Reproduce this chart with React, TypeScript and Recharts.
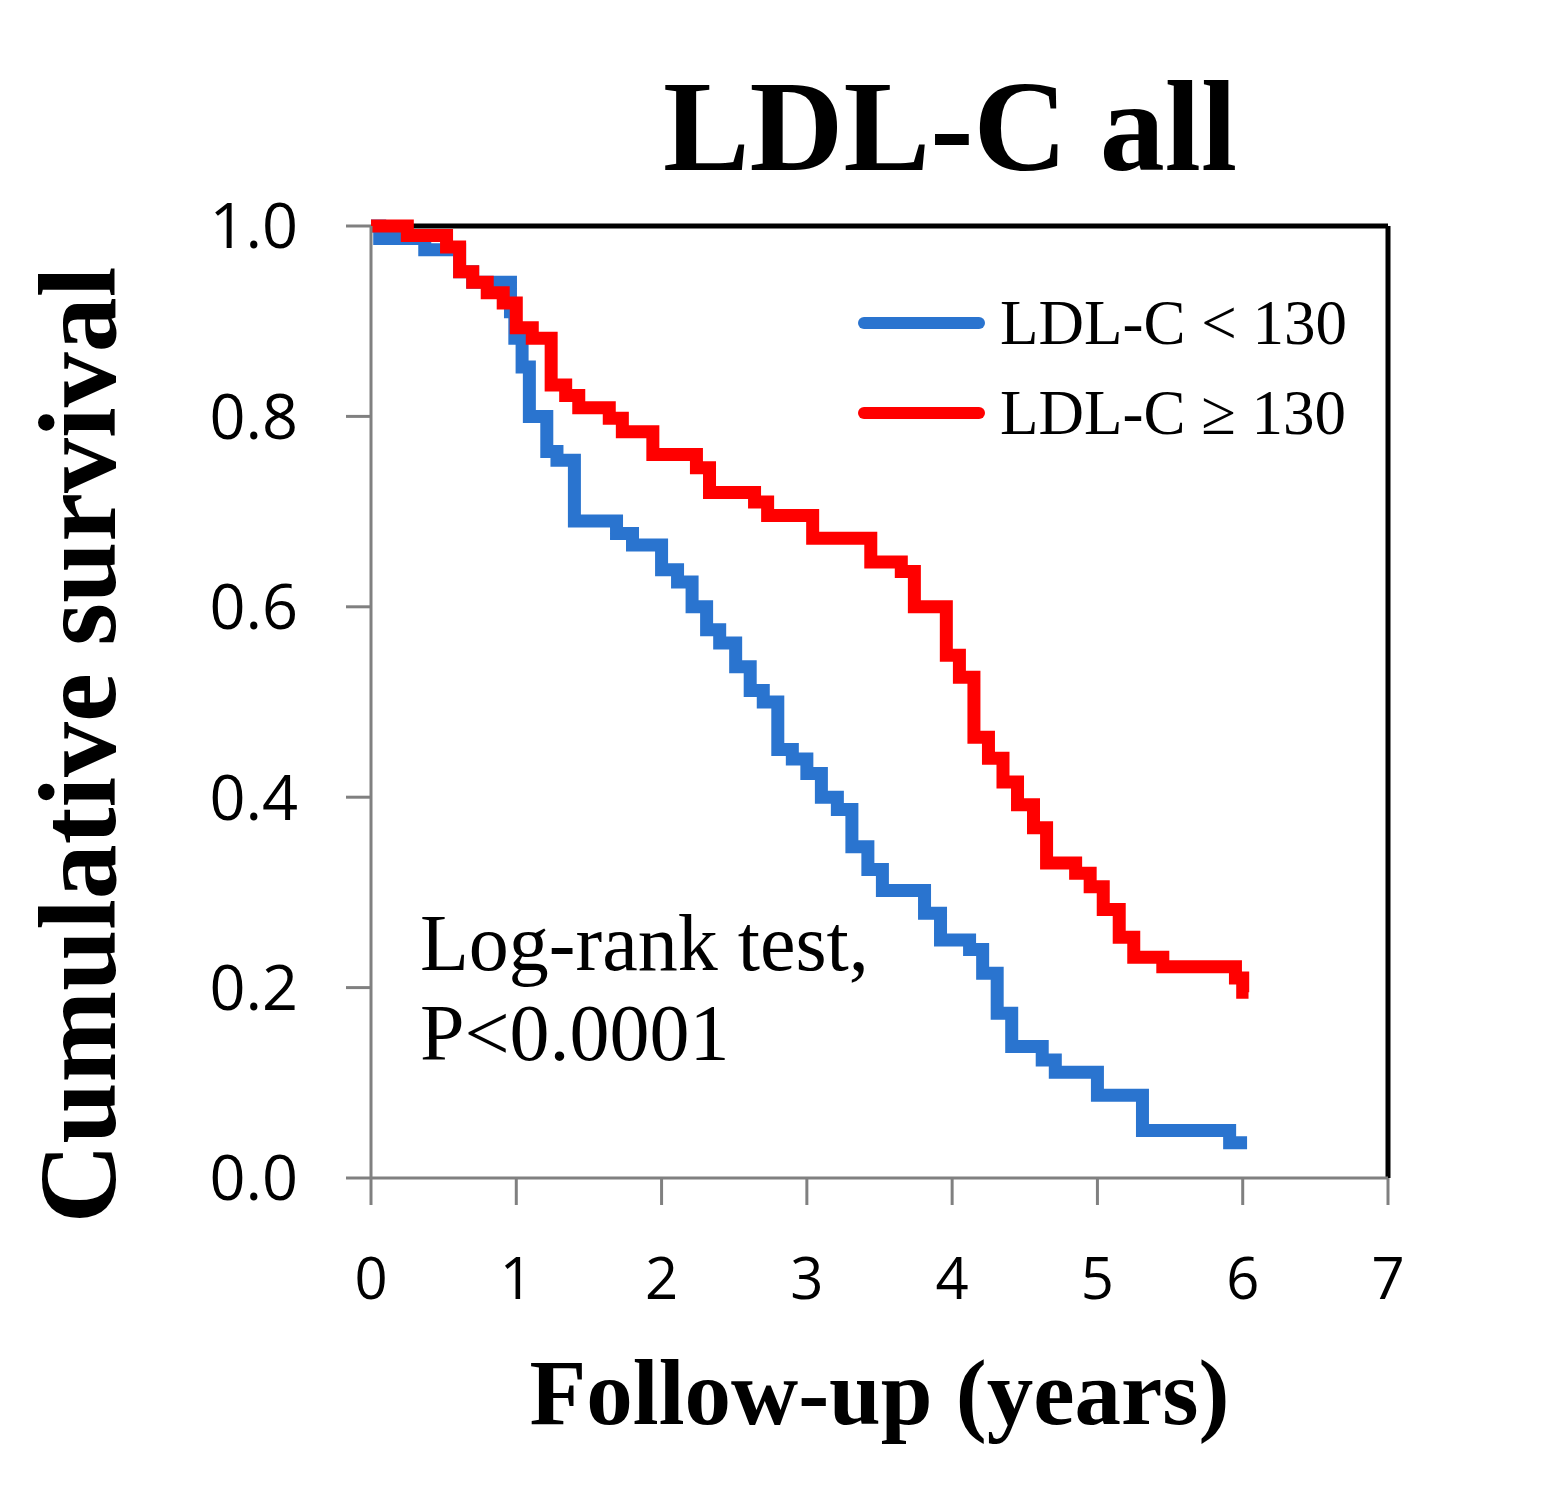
import { LineChart, Line, XAxis, YAxis, ReferenceLine, Legend } from "recharts";

// Kaplan-Meier steps (years, cumulative survival)
const lowYears = [
  0, 0.06, 0.37, 0.61, 0.7, 0.96, 0.99, 1.04, 1.09, 1.21, 1.28, 1.4, 1.69, 1.8,
  2.0, 2.11, 2.21, 2.31, 2.4, 2.51, 2.61, 2.7, 2.8, 2.9, 3.0, 3.1, 3.21, 3.31,
  3.42, 3.52, 3.81, 3.92, 4.12, 4.21, 4.31, 4.41, 4.62, 4.71, 5.0, 5.31, 5.91,
  6.03,
];
const lowSurv = [
  1.0, 0.987, 0.975, 0.952, 0.941, 0.91, 0.882, 0.852, 0.8, 0.763, 0.754, 0.69,
  0.677, 0.665, 0.639, 0.626, 0.6, 0.576, 0.562, 0.537, 0.512, 0.5, 0.45, 0.44,
  0.425, 0.4, 0.387, 0.348, 0.324, 0.302, 0.278, 0.25, 0.24, 0.215, 0.173,
  0.138, 0.124, 0.111, 0.087, 0.05, 0.037, 0.037,
];

const highYears = [
  0, 0.25, 0.52, 0.61, 0.7, 0.8, 0.91, 1.0, 1.11, 1.24, 1.34, 1.43, 1.64, 1.73,
  1.94, 2.24, 2.33, 2.64, 2.73, 3.04, 3.44, 3.65, 3.74, 3.96, 4.05, 4.15, 4.25,
  4.35, 4.45, 4.56, 4.65, 4.85, 4.95, 5.04, 5.15, 5.25, 5.45, 5.95, 6.0, 6.04,
];
const highSurv = [
  1.0, 0.99, 0.978, 0.952, 0.941, 0.93, 0.919, 0.893, 0.882, 0.833, 0.822,
  0.809, 0.798, 0.784, 0.76, 0.746, 0.72, 0.71, 0.696, 0.672, 0.647, 0.637, 0.6,
  0.549, 0.526, 0.463, 0.441, 0.416, 0.392, 0.368, 0.331, 0.32, 0.306, 0.282,
  0.253, 0.232, 0.222, 0.21, 0.195, 0.195,
];

const xTicks = [0, 1, 2, 3, 4, 5, 6, 7];
const yTicks = [0, 0.2, 0.4, 0.6, 0.8, 1.0];

const lowData = lowYears.map((t, i) => ({ t, s: lowSurv[i] }));
const highData = highYears.map((t, i) => ({ t, s: highSurv[i] }));

const BLUE = "#2a74cf";
const RED = "#ff0000";
const AXIS = "#808080";
const SERIF = "'Liberation Serif', 'Times New Roman', serif";

const series = [
  { name: "LDL-C < 130", color: BLUE },
  { name: "LDL-C \u2265 130", color: RED },
];

function KMLegend() {
  return (
    <div>
      {series.map((s) => (
        <div
          key={s.name}
          style={{ display: "flex", alignItems: "center", height: 90 }}
        >
          <div
            style={{
              width: 127,
              height: 12,
              borderRadius: 6,
              background: s.color,
              marginRight: 15,
            }}
          />
          <span
            style={{
              fontFamily: SERIF,
              fontSize: 63,
              lineHeight: "90px",
              color: "#000",
              whiteSpace: "nowrap",
            }}
          >
            {s.name}
          </span>
        </div>
      ))}
    </div>
  );
}

export default function App() {
  return (
    <div
      style={{
        position: "absolute",
        left: 0,
        top: 0,
        width: 1568,
        height: 1506,
        background: "#fff",
      }}
    >
      <LineChart
        width={1568}
        height={1506}
        margin={{ top: 226, right: 180, bottom: 148, left: 0 }}
      >
        <XAxis
          type="number"
          dataKey="t"
          domain={[0, 7]}
          ticks={xTicks}
          allowDataOverflow
          height={180}
          stroke={AXIS}
          strokeWidth={3}
          tickSize={27}
          tickMargin={53}
          tick={{ fill: "#000", fontSize: 58, fontFamily: "'Open Sans', sans-serif" }}
          label={{
            value: "Follow-up (years)",
            position: "bottom",
            offset: 0,
            fill: "#000",
            fontSize: 93,
            fontWeight: "bold",
            fontFamily: SERIF,
          }}
        />
        <YAxis
          type="number"
          dataKey="s"
          domain={[0, 1]}
          ticks={yTicks}
          width={371}
          stroke={AXIS}
          strokeWidth={3}
          tickSize={25}
          tickMargin={48}
          tickFormatter={(v: number) => v.toFixed(1)}
          tick={{ fill: "#000", fontSize: 63, fontFamily: "'Open Sans', sans-serif" }}
        />
        <ReferenceLine y={1} stroke="#000" strokeWidth={5} />
        <ReferenceLine x={7} stroke="#000" strokeWidth={5} />
        <Legend
          layout="vertical"
          align="center"
          verticalAlign="middle"
          wrapperStyle={{ top: 278, left: 858, width: "auto" }}
          content={() => <KMLegend />}
        />
        <Line
          data={lowData}
          dataKey="s"
          type="stepAfter"
          stroke={BLUE}
          strokeWidth={13}
          dot={false}
          activeDot={false}
          isAnimationActive={false}
          name="LDL-C < 130"
        />
        <Line
          data={highData}
          dataKey="s"
          type="stepAfter"
          stroke={RED}
          strokeWidth={13}
          dot={false}
          activeDot={false}
          isAnimationActive={false}
          name="LDL-C ≥ 130"
        />
      </LineChart>

      <div
        style={{
          position: "absolute",
          left: 950,
          top: 61,
          transform: "translateX(-50%)",
          fontFamily: SERIF,
          fontWeight: "bold",
          fontSize: 130,
          lineHeight: "130px",
          whiteSpace: "nowrap",
        }}
      >
        LDL-C all
      </div>

      <div
        style={{
          position: "absolute",
          left: 78,
          top: 745,
          transform: "translate(-50%, -50%) rotate(-90deg)",
          fontFamily: SERIF,
          fontWeight: "bold",
          fontSize: 110,
          lineHeight: "110px",
          whiteSpace: "nowrap",
        }}
      >
        Cumulative survival
      </div>

      <div
        style={{
          position: "absolute",
          left: 420,
          top: 898,
          fontFamily: SERIF,
          fontSize: 80,
          lineHeight: "90px",
          whiteSpace: "nowrap",
        }}
      >
        Log-rank test,
        <br />
        P&lt;0.0001
      </div>
    </div>
  );
}
